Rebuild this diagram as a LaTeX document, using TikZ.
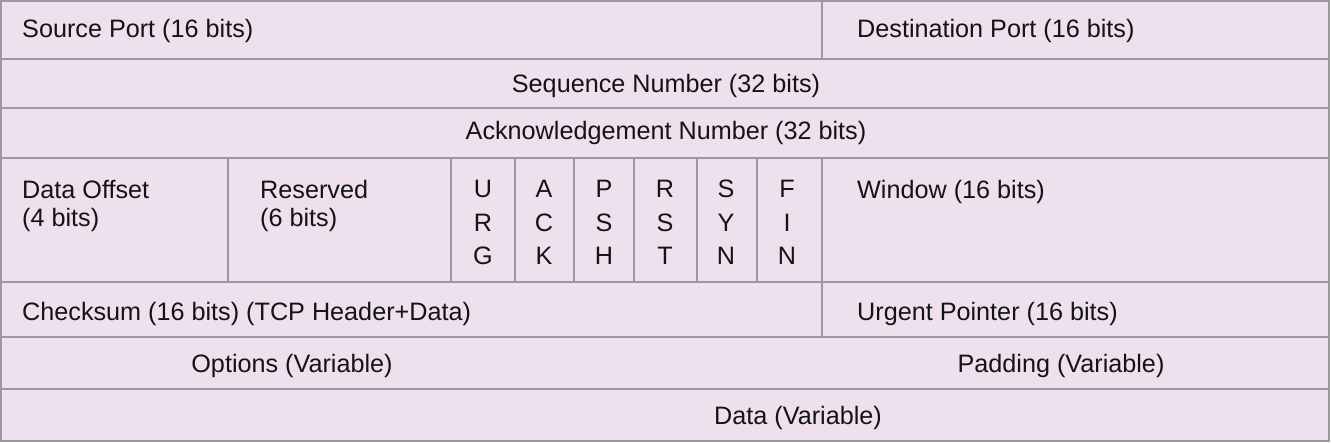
\documentclass[tikz,border=0pt]{standalone}
\usepackage{fontspec}
\setmainfont{Liberation Sans}
\definecolor{cellfill}{RGB}{239,224,238}
\definecolor{rulegray}{RGB}{156,152,162}
\begin{document}
\begin{tikzpicture}[x=1pt,y=-1pt,
  cell/.style={draw=rulegray, fill=cellfill, line width=2pt},
  lbl/.style={inner sep=0pt, font=\fontsize{25.2}{28}\selectfont, text=black!92},
  flag/.style={lbl, align=center, font=\fontsize{25.2}{33.5}\selectfont, anchor=base}]
\useasboundingbox (0,0) rectangle (1331,443);
% row 1
\draw[cell] (1,1) rectangle (822,59);
\draw[cell] (822,1) rectangle (1329,59);
% rows 2,3
\draw[cell] (1,59) rectangle (1329,108);
\draw[cell] (1,108) rectangle (1329,158);
% row 4
\draw[cell] (1,158) rectangle (228,282);
\draw[cell] (228,158) rectangle (451,282);
\draw[cell] (451,158) rectangle (515,282);
\draw[cell] (515,158) rectangle (574,282);
\draw[cell] (574,158) rectangle (634,282);
\draw[cell] (634,158) rectangle (697,282);
\draw[cell] (697,158) rectangle (757,282);
\draw[cell] (757,158) rectangle (822,282);
\draw[cell] (822,158) rectangle (1329,282);
% row 5
\draw[cell] (1,282) rectangle (822,337);
\draw[cell] (822,282) rectangle (1329,337);
% rows 6,7
\draw[cell] (1,337) rectangle (1329,389);
\draw[cell] (1,389) rectangle (1329,441);

% labels
\node[lbl, anchor=base west] (src) at (22,38) {Source Port (16 bits)};
\node[lbl, anchor=base west] (dst) at (857,38) {Destination Port (16 bits)};
\node[lbl, anchor=base] (seq) at (666,93) {Sequence Number (32 bits)};
\node[lbl, anchor=base] (ack) at (666,140) {Acknowledgement Number (32 bits)};
\node[lbl, anchor=base west] (off1) at (22,199) {Data Offset};
\node[lbl, anchor=base west] (off2) at (22,227) {(4 bits)};
\node[lbl, anchor=base west] (res1) at (260,199) {Reserved};
\node[lbl, anchor=base west] (res2) at (260,227) {(6 bits)};
\node[flag] (urg) at (483,265) {U\\R\\G};
\node[flag] (ackf) at (544,265) {A\\C\\K};
\node[flag] (psh) at (604,265) {P\\S\\H};
\node[flag] (rst) at (665,265) {R\\S\\T};
\node[flag] (syn) at (726,265) {S\\Y\\N};
\node[flag] (fin) at (787,265) {F\\I\\N};
\node[lbl, anchor=base west] (win) at (857,199) {Window (16 bits)};
\node[lbl, anchor=base west] (chk) at (22,321) {Checksum (16 bits) (TCP Header+Data)};
\node[lbl, anchor=base west] (urgp) at (857,321) {Urgent Pointer (16 bits)};
\node[lbl, anchor=base] (opt) at (292,373) {Options (Variable)};
\node[lbl, anchor=base] (pad) at (1061,373) {Padding (Variable)};
\node[lbl, anchor=base] (data) at (798,425) {Data (Variable)};
\end{tikzpicture}
\end{document}
